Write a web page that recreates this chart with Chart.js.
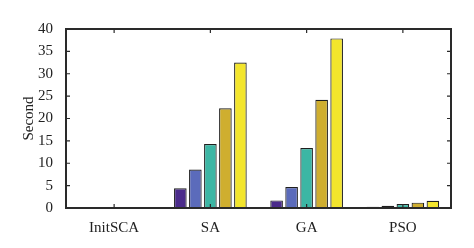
<!DOCTYPE html>
<html lang="en">
<head>
    <meta charset="UTF-8">
    <title>Second per algorithm</title>
    <script src="https://cdn.jsdelivr.net/npm/chart.js"></script>
    <style>
        html, body { margin: 0; padding: 0; background: #fff; }
        #wrap { width: 474px; height: 248px; }
    </style>
</head>
<body>
    <div id="wrap"><canvas id="myChart"></canvas></div>
    <script>
        // categories and series (5 runs per algorithm)
        const algorithms = ['InitSCA', 'SA', 'GA', 'PSO'];
        const run1 = [0.03, 4.4, 1.7, 0.3];
        const run2 = [0.03, 8.6, 4.7, 0.5];
        const run3 = [0.04, 14.3, 13.4, 0.9];
        const run4 = [0.05, 22.3, 24.2, 1.2];
        const run5 = [0.06, 32.5, 37.9, 1.6];
        const yTicks = [0, 5, 10, 15, 20, 25, 30, 35, 40];

        const colors = ['#4b2b8b', '#5b6bbb', '#3cb6a4', '#cfae2f', '#f3e52c'];
        const series = [run1, run2, run3, run4, run5];

        const axisColor = '#2a2a2a';
        const serif = '"Liberation Serif", "DejaVu Serif", serif';

        // box around plot with inward ticks, like the original figure
        const boxPlugin = {
            id: 'boxTicks',
            afterDraw(chart) {
                const c = chart.ctx;
                const a = chart.chartArea;
                const xs = chart.scales.x, ys = chart.scales.y;
                c.save();
                c.strokeStyle = axisColor;
                c.lineWidth = 2;
                c.strokeRect(a.left, a.top, a.right - a.left, a.bottom - a.top);
                c.lineWidth = 1.2;
                c.beginPath();
                yTicks.forEach(v => {
                    const y = ys.getPixelForValue(v);
                    c.moveTo(a.left, y); c.lineTo(a.left + 4, y);
                    c.moveTo(a.right, y); c.lineTo(a.right - 4, y);
                });
                algorithms.forEach((n, i) => {
                    const x = xs.getPixelForValue(i);
                    c.moveTo(x, a.bottom); c.lineTo(x, a.bottom - 4);
                    c.moveTo(x, a.top); c.lineTo(x, a.top + 4);
                });
                c.stroke();
                c.restore();
            }
        };

        const data = {
            labels: algorithms,
            datasets: series.map((s, i) => ({
                label: 'Run ' + (i + 1),
                data: s,
                backgroundColor: colors[i],
                borderColor: '#1e1e1e',
                borderWidth: 1.2,
                barPercentage: 0.84,
                categoryPercentage: 0.78
            }))
        };

        const config = {
            type: 'bar',
            data: data,
            options: {
                responsive: true,
                maintainAspectRatio: false,
                animation: false,
                layout: { padding: { top: 29, right: 23, bottom: 0, left: 20 } },
                plugins: {
                    legend: { display: false },
                    tooltip: { enabled: false }
                },
                scales: {
                    x: {
                        grid: { display: false },
                        border: { display: false },
                        ticks: { color: '#222', font: { family: serif, size: 15 }, padding: 3 },
                        afterFit: s => { s.height = 40; }
                    },
                    y: {
                        min: 0,
                        max: 40,
                        afterBuildTicks: s => { s.ticks = yTicks.map(v => ({ value: v })); },
                        grid: { display: false },
                        border: { display: false },
                        ticks: { color: '#222', font: { family: serif, size: 15 }, padding: 5 },
                        title: {
                            display: true,
                            text: 'Second',
                            color: '#222',
                            font: { family: serif, size: 15 },
                            padding: { top: 0, bottom: 2 }
                        },
                        afterFit: s => { s.width = 46; }
                    }
                }
            },
            plugins: [boxPlugin]
        };

        const ctx = document.querySelector('#myChart').getContext('2d');
        const myChart = new Chart(ctx, config);
    </script>
</body>
</html>
